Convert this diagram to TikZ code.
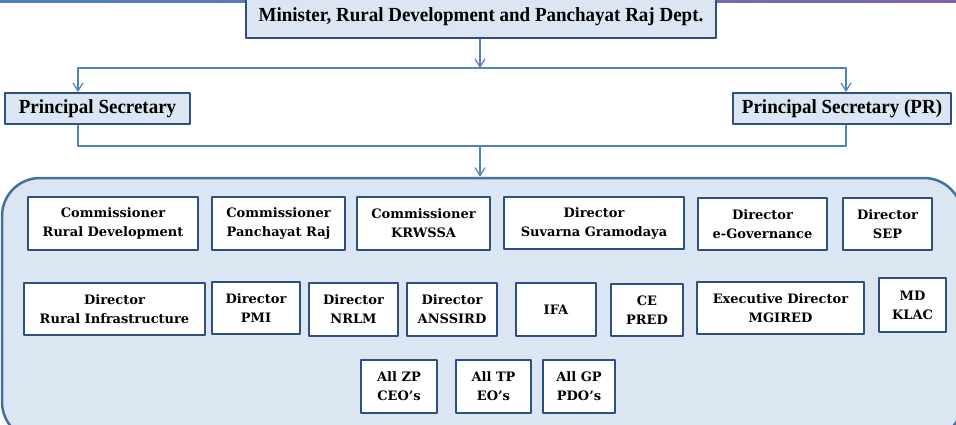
\documentclass[tikz,border=0pt]{standalone}
\usepackage{fontspec}
\setmainfont{DejaVu Serif}
\newfontfamily\headfont[FakeStretch=0.95]{Liberation Serif}
\usetikzlibrary{arrows.meta}

\definecolor{boxfill}{HTML}{DCE6F2}
\definecolor{boxline}{HTML}{2F4F80}
\definecolor{arrline}{HTML}{4F81BD}
\definecolor{panelline}{HTML}{41719C}
\definecolor{topbar}{HTML}{8064A2}

\tikzset{
  headbox/.style={draw=boxline, line width=2pt, fill=boxfill, inner sep=0pt,
    font=\headfont\bfseries\fontsize{20}{22}\selectfont},
  unitbox/.style={draw=boxline, line width=1.8pt, fill=white, align=center, inner sep=0pt,
    font=\bfseries\fontsize{13}{19}\selectfont},
  panel/.style={draw=panelline, line width=2.5pt, fill=boxfill, rounded corners=38pt, inner sep=0pt},
  arr/.style={draw=arrline, line width=1.2pt, -{Straight Barb[length=8pt,width=10pt]}},
  conn/.style={draw=arrline, line width=1.2pt},
}

\begin{document}
\begin{tikzpicture}[x=1pt, y=-1pt, line cap=round, line join=round]

  %% ════ top strip ════
  \shade[left color=arrline, right color=topbar] (0,0) rectangle (956,2.5);

  %% ════ minister and secretaries ════
  \node[headbox, minimum width=470, minimum height=42] (min) at (481,17) {Minister, Rural Development and Panchayat Raj Dept.};
  \node[headbox, minimum width=185, minimum height=31] (ps) at (97.5,108.5) {Principal Secretary};
  \node[headbox, minimum width=218, minimum height=31] (pspr) at (842,108.5) {Principal Secretary (PR)};

  %% ════ panel ════
  \node[panel, minimum width=960, minimum height=262] (panel) at (482,309) {};

  %% ════ junctions ════
  \coordinate (jt) at (480,68);
  \coordinate (jl) at (78,68);
  \coordinate (jr) at (846,68);
  \coordinate (jb) at (480,146);

  %% ════ connectors ════
  \draw[arr] (min.south -| jt) -- (jt);
  \draw[conn] (jl) -- (jr);
  \draw[arr] (jl) -- (jl |- ps.north);
  \draw[arr] (jr) -- (jr |- pspr.north);
  \draw[conn] (jl |- ps.south) -- (jl |- jb) -- (jr |- jb) -- (jr |- pspr.south);
  \draw[arr] (jb) -- (jb |- panel.north);

  %% ════ row 1 ════
  \node[unitbox, minimum width=170, minimum height=53] (crd) at (113,223.5) {Commissioner\\Rural Development};
  \node[unitbox, minimum width=133, minimum height=53] (cpr) at (278.5,223.5) {Commissioner\\Panchayat Raj};
  \node[unitbox, minimum width=133, minimum height=53] (ckr) at (423.5,223.5) {Commissioner\\KRWSSA};
  \node[unitbox, minimum width=180, minimum height=52] (dsg) at (594,223) {Director\\Suvarna Gramodaya};
  \node[unitbox, minimum width=129, minimum height=52] (deg) at (762.5,224) {Director\\e-Governance};
  \node[unitbox, minimum width=89, minimum height=52] (dsep) at (887.5,224) {Director\\SEP};

  %% ════ row 2 ════
  \node[unitbox, minimum width=181, minimum height=52] (dri) at (114.5,309) {Director\\Rural Infrastructure};
  \node[unitbox, minimum width=88, minimum height=52] (dpmi) at (256,308) {Director\\PMI};
  \node[unitbox, minimum width=89, minimum height=53] (dnrlm) at (353.5,309.5) {Director\\NRLM};
  \node[unitbox, minimum width=90, minimum height=53] (dans) at (452,309.5) {Director\\ANSSIRD};
  \node[unitbox, minimum width=80, minimum height=53] (ifa) at (556,309.5) {IFA};
  \node[unitbox, minimum width=72, minimum height=52] (cep) at (647,310) {CE\\PRED};
  \node[unitbox, minimum width=167, minimum height=52] (edm) at (780.5,308) {Executive Director\\MGIRED};
  \node[unitbox, minimum width=67, minimum height=54] (mdk) at (912.5,305) {MD\\KLAC};

  %% ════ row 3 ════
  \node[unitbox, minimum width=76, minimum height=53] (azp) at (399,386.5) {All ZP\\CEO’s};
  \node[unitbox, minimum width=75, minimum height=53] (atp) at (493.5,386.5) {All TP\\EO’s};
  \node[unitbox, minimum width=72, minimum height=53] (agp) at (579,386.5) {All GP\\PDO’s};

  \pgfresetboundingbox
  \path[use as bounding box] (0,0) rectangle (956,424);
\end{tikzpicture}
\end{document}
